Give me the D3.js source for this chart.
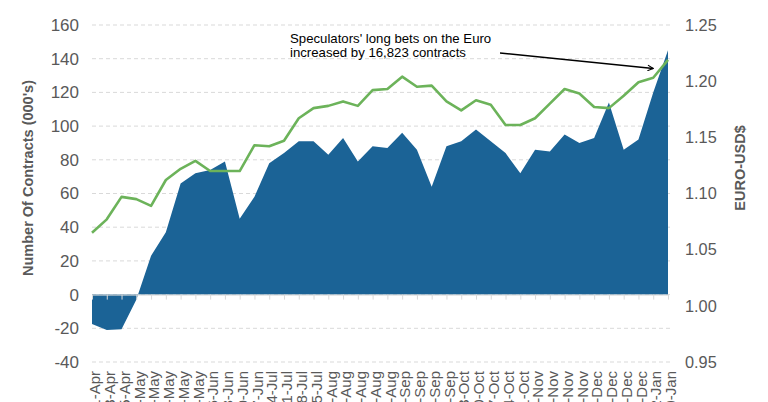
<!DOCTYPE html>
<html>
<head>
<meta charset="utf-8">
<script src="https://cdn.jsdelivr.net/npm/d3@7"></script>
<style>
  html, body { margin: 0; padding: 0; background: #fff; }
  svg { display: block; font-family: "Liberation Sans", Arial, sans-serif; }
</style>
</head>
<body>
<div id="chart"></div>
<script>
// weekly COT dates (Apr 2017 - Jan 2018)
const weeks = [
  "11-Apr", "18-Apr", "25-Apr",
  "2-May", "9-May", "16-May", "23-May", "30-May",
  "6-Jun", "13-Jun", "20-Jun", "27-Jun",
  "4-Jul", "11-Jul", "18-Jul", "25-Jul",
  "1-Aug", "8-Aug", "15-Aug", "22-Aug", "29-Aug",
  "5-Sep", "12-Sep", "19-Sep", "26-Sep",
  "3-Oct", "10-Oct", "17-Oct", "24-Oct", "31-Oct",
  "7-Nov", "14-Nov", "21-Nov", "28-Nov",
  "5-Dec", "12-Dec", "19-Dec", "26-Dec",
  "2-Jan", "9-Jan"
];

// net speculative positions, thousands of contracts
const contracts = [
  -17.5, -21, -20.6, -3,
  23, 37, 66, 72, 74,
  79, 45, 58, 78, 84,
  91, 91, 83, 93, 79,
  88, 87, 96, 86, 64,
  88, 91, 98, 91, 84,
  72, 86, 85, 95, 90,
  93, 114, 86, 92, 120, 145
];

// EUR-USD spot
const eurusd = [
  1.065, 1.077, 1.097, 1.095,
  1.089, 1.112, 1.122, 1.129, 1.120,
  1.120, 1.120, 1.143, 1.142, 1.147,
  1.167, 1.176, 1.178, 1.182, 1.178,
  1.192, 1.193, 1.204, 1.195, 1.196,
  1.182, 1.174, 1.183, 1.179, 1.161,
  1.161, 1.167, 1.180, 1.193, 1.189,
  1.177, 1.176, 1.187, 1.199, 1.203, 1.219
];

const leftTicks = [-40, -20, 0, 20, 40, 60, 80, 100, 120, 140, 160];
const rightTicks = [0.95, 1.00, 1.05, 1.10, 1.15, 1.20, 1.25];

const W = 768, H = 402;
const svg = d3.select("#chart").append("svg")
    .attr("width", W).attr("height", H);

const x = d3.scalePoint().domain(d3.range(weeks.length)).range([92, 668]);
const yL = d3.scaleLinear().domain([-40, 160]).range([362, 25]);
const yR = d3.scaleLinear().domain([0.95, 1.25]).range([362, 25]);

const grey = "#595959";

// gridlines
svg.append("g").selectAll("line")
    .data(leftTicks)
    .join("line")
    .attr("x1", 92).attr("x2", 670)
    .attr("y1", d => yL(d)).attr("y2", d => yL(d))
    .attr("stroke", "#d9d9d9")
    .attr("stroke-dasharray", "4,3");

// contracts area
const area = d3.area()
    .x((d, i) => x(i))
    .y0(yL(0))
    .y1(d => yL(d));

svg.append("path")
    .datum(contracts)
    .attr("d", area)
    .attr("fill", "#1b6396");

// category axis on the zero line
const xAxis = svg.append("g")
    .attr("transform", `translate(0,${yL(0)})`)
    .call(d3.axisBottom(x).tickSize(5).tickSizeOuter(0).tickFormat(""));
xAxis.select(".domain").attr("stroke", "#d9d9d9");
xAxis.selectAll(".tick line").attr("stroke", "#d9d9d9");

// EUR-USD line
svg.append("path")
    .datum(eurusd)
    .attr("d", d3.line().x((d, i) => x(i)).y(d => yR(d)))
    .attr("fill", "none")
    .attr("stroke", "#6cb35a")
    .attr("stroke-width", 2.6)
    .attr("stroke-linejoin", "round");

// week labels along the bottom (cut by the frame, as in the original)
svg.append("g").selectAll("text")
    .data(weeks)
    .join("text")
    .attr("transform", (d, i) => `translate(${x(i)},371) rotate(-90)`)
    .attr("text-anchor", "end")
    .attr("dy", "0.55em")
    .attr("font-size", 15)
    .attr("fill", grey)
    .text(d => d);

// left axis labels
svg.append("g").selectAll("text")
    .data(leftTicks)
    .join("text")
    .attr("x", 79).attr("y", d => yL(d))
    .attr("dy", "0.35em")
    .attr("text-anchor", "end")
    .attr("font-size", 17)
    .attr("fill", grey)
    .text(d => d);

// right axis labels
svg.append("g").selectAll("text")
    .data(rightTicks)
    .join("text")
    .attr("x", 685).attr("y", d => yR(d))
    .attr("dy", "0.35em")
    .attr("font-size", 16.3)
    .attr("fill", grey)
    .text(d => d.toFixed(2));

// axis titles
svg.append("text")
    .attr("transform", `translate(33,${178}) rotate(-90)`)
    .attr("text-anchor", "middle")
    .attr("font-size", 14.5)
    .attr("font-weight", "bold")
    .attr("fill", grey)
    .text("Number Of Contracts (000's)");

svg.append("text")
    .attr("transform", `translate(745,${168}) rotate(-90)`)
    .attr("text-anchor", "middle")
    .attr("font-size", 14.5)
    .attr("font-weight", "bold")
    .attr("fill", grey)
    .text("EURO-USD$");

// annotation
const note = svg.append("text")
    .attr("x", 290).attr("y", 43)
    .attr("font-size", 13.2)
    .attr("fill", "#000");
note.append("tspan").attr("x", 290).text("Speculators' long bets on the Euro");
note.append("tspan").attr("x", 290).attr("dy", 14.2).text("increased by 16,823 contracts");

svg.append("defs").append("marker")
    .attr("id", "arrow")
    .attr("viewBox", "0 0 10 10")
    .attr("refX", 9).attr("refY", 5)
    .attr("markerWidth", 7).attr("markerHeight", 7)
    .attr("markerUnits", "userSpaceOnUse")
    .attr("orient", "auto")
    .append("path")
    .attr("d", "M1,1 L9,5 L1,9")
    .attr("fill", "none")
    .attr("stroke", "#000")
    .attr("stroke-width", 1.6);

svg.append("line")
    .attr("x1", 500).attr("y1", 53)
    .attr("x2", x(38)).attr("y2", yR(1.2033) - 9)
    .attr("stroke", "#000")
    .attr("stroke-width", 1.5)
    .attr("marker-end", "url(#arrow)");
</script>
</body>
</html>
